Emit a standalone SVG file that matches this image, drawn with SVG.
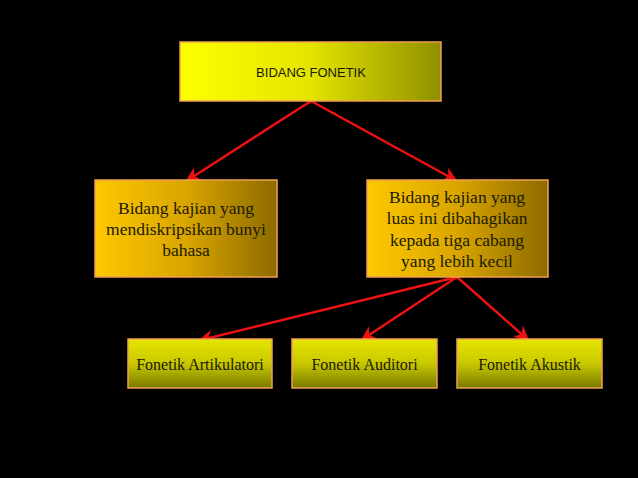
<svg xmlns="http://www.w3.org/2000/svg" width="638" height="478" viewBox="0 0 638 478">
<defs>
<linearGradient id="gTop" x1="0" y1="0" x2="1" y2="0"><stop offset="0" stop-color="#ffff00"/><stop offset="0.5" stop-color="#e4e400"/><stop offset="1" stop-color="#8f8f00"/></linearGradient>
<linearGradient id="gMid" x1="0" y1="0" x2="1" y2="0"><stop offset="0" stop-color="#ffc800"/><stop offset="0.5" stop-color="#d9a500"/><stop offset="1" stop-color="#8c6a00"/></linearGradient>
<linearGradient id="gBot" x1="0" y1="0" x2="0" y2="1"><stop offset="0" stop-color="#e6e600"/><stop offset="0.5" stop-color="#c8c800"/><stop offset="1" stop-color="#7a7a00"/></linearGradient>
<marker id="ah" viewBox="0 0 10 10" refX="8" refY="5" markerWidth="6" markerHeight="6" orient="auto" markerUnits="strokeWidth">
<path d="M0,0 L10,5 L0,10 L3,5 Z" fill="#ee1111"/>
</marker>
</defs>
<style>
.box{stroke:#f0a050;stroke-width:1.5}
.serif{font-family:"Liberation Serif","Times New Roman",serif;fill:#1a1a00;text-anchor:middle}
.sans{font-family:"Liberation Sans",Arial,sans-serif;fill:#1a1a00;text-anchor:middle}
.conn{stroke:#ee1111;stroke-width:2.5;fill:none;marker-end:url(#ah)}
</style>
<rect width="638" height="478" fill="#000"/>
<g id="connectors">
<line class="conn" x1="311" y1="101" x2="188" y2="180"/>
<line class="conn" x1="311" y1="101" x2="455" y2="180"/>
<line class="conn" x1="457" y1="277" x2="201" y2="340"/>
<line class="conn" x1="457" y1="277" x2="363" y2="339"/>
<line class="conn" x1="457" y1="277" x2="527" y2="339"/>
</g>
<g id="bidang-fonetik">
<rect class="box" x="180" y="42" width="261" height="59" fill="url(#gTop)"/>
<text class="sans" x="311" y="77" font-size="13">BIDANG FONETIK</text>
</g>
<g id="node-left">
<rect class="box" x="95" y="180" width="182" height="97" fill="url(#gMid)"/>
<text class="serif" x="186" y="214" font-size="17.5">Bidang kajian yang</text>
<text class="serif" x="186" y="235" font-size="17.5">mendiskripsikan bunyi</text>
<text class="serif" x="186" y="256" font-size="17.5">bahasa</text>
</g>
<g id="node-right">
<rect class="box" x="367" y="180" width="181" height="97" fill="url(#gMid)"/>
<text class="serif" x="457" y="203" font-size="17.5">Bidang kajian yang</text>
<text class="serif" x="457" y="224" font-size="17.5">luas ini dibahagikan</text>
<text class="serif" x="457" y="246" font-size="17.5">kepada tiga cabang</text>
<text class="serif" x="457" y="267" font-size="17.5">yang lebih kecil</text>
</g>
<g id="fonetik-artikulatori">
<rect class="box" x="128" y="339" width="144" height="49" fill="url(#gBot)"/>
<text class="serif" x="200" y="370" font-size="16">Fonetik Artikulatori</text>
</g>
<g id="fonetik-auditori">
<rect class="box" x="292" y="339" width="145" height="49" fill="url(#gBot)"/>
<text class="serif" x="364.500" y="370" font-size="16">Fonetik Auditori</text>
</g>
<g id="fonetik-akustik">
<rect class="box" x="457" y="339" width="145" height="49" fill="url(#gBot)"/>
<text class="serif" x="529.500" y="370" font-size="16">Fonetik Akustik</text>
</g>
</svg>
